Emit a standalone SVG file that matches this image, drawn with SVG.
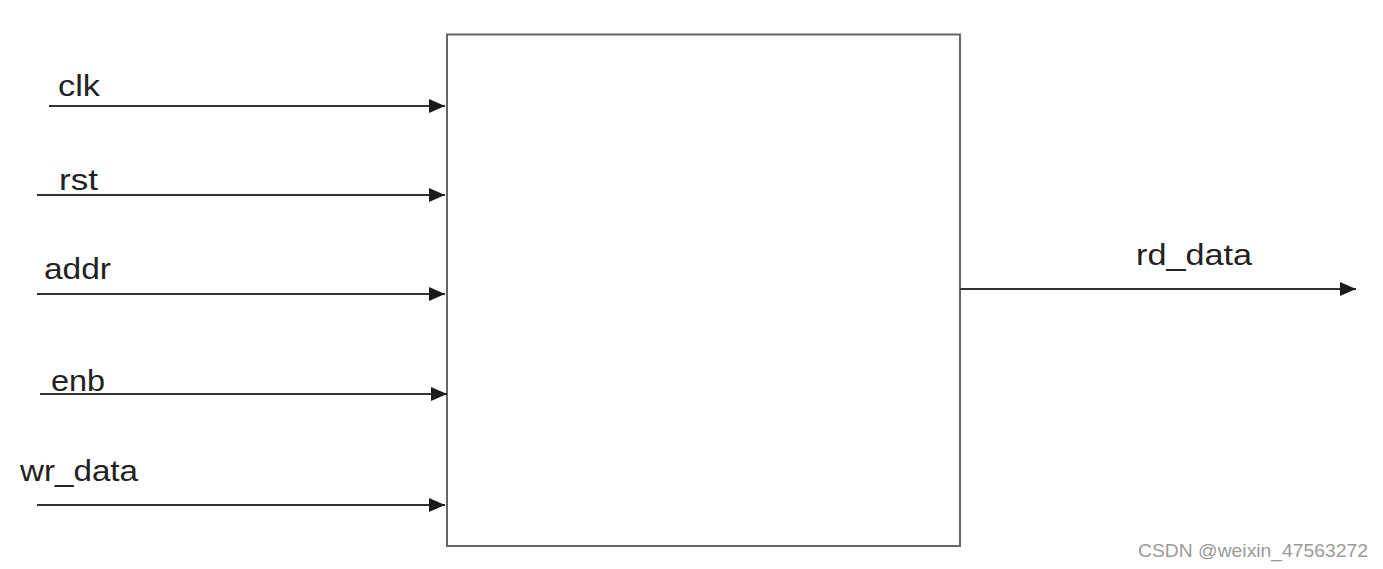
<svg xmlns="http://www.w3.org/2000/svg" width="1383" height="569" viewBox="0 0 1383 569">
<style>
.lbl{font-family:"Liberation Sans",Arial,sans-serif;font-size:30px;fill:#222}
.wire{stroke:#333;stroke-width:2;fill:none}
.wm{font-family:"Liberation Sans",Arial,sans-serif;font-size:18px;fill:#9a9a9a}
</style>
<defs>
<marker id="ah" viewBox="0 0 16 14" refX="16" refY="7" markerWidth="16" markerHeight="14" markerUnits="userSpaceOnUse" orient="auto">
<path d="M0,0 L16,7 L0,14 Z" fill="#1a1a1a"/>
</marker>
</defs>
<rect width="1383" height="569" fill="#fff"/>
<g id="block">
<rect x="447" y="34.5" width="513" height="511.5" fill="#fff" stroke="#666" stroke-width="2"/>
</g>
<g id="connectors">
<line class="wire" x1="49" y1="106" x2="445" y2="106" marker-end="url(#ah)"/>
<line class="wire" x1="37" y1="195" x2="445" y2="195" marker-end="url(#ah)"/>
<line class="wire" x1="37" y1="294" x2="445" y2="294" marker-end="url(#ah)"/>
<line class="wire" x1="40" y1="394" x2="447" y2="394" marker-end="url(#ah)"/>
<line class="wire" x1="37" y1="505" x2="445" y2="505" marker-end="url(#ah)"/>
<line class="wire" x1="960" y1="289" x2="1356" y2="289" marker-end="url(#ah)"/>
</g>
<g id="labels">
<text class="lbl" x="58" y="96" textLength="42" lengthAdjust="spacingAndGlyphs">clk</text>
<text class="lbl" x="59" y="190" textLength="39" lengthAdjust="spacingAndGlyphs">rst</text>
<text class="lbl" x="44" y="279" textLength="67" lengthAdjust="spacingAndGlyphs">addr</text>
<text class="lbl" x="51" y="391" textLength="54" lengthAdjust="spacingAndGlyphs">enb</text>
<text class="lbl" x="20" y="481" textLength="118" lengthAdjust="spacingAndGlyphs">wr_data</text>
<text class="lbl" x="1136" y="265" textLength="116" lengthAdjust="spacingAndGlyphs">rd_data</text>
</g>
<text class="wm" x="1138" y="557" textLength="230" lengthAdjust="spacingAndGlyphs">CSDN @weixin_47563272</text>
</svg>
